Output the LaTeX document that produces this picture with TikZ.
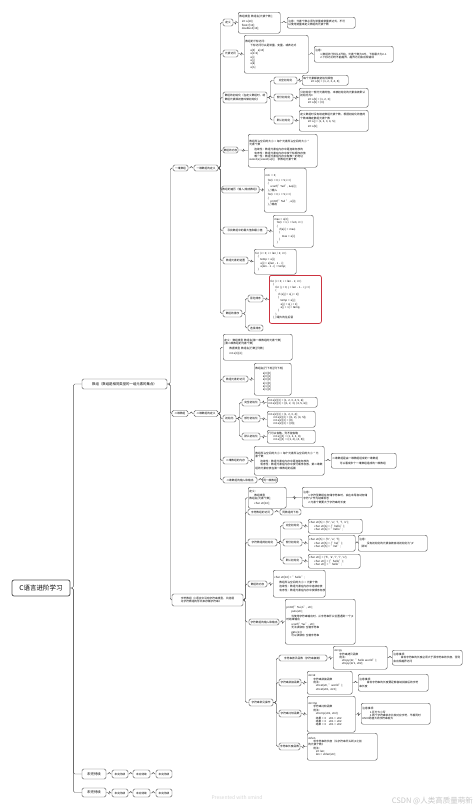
\documentclass[tikz,border=0pt]{standalone}
\usepackage{fontspec}
\setmainfont{Noto Sans CJK SC}
\definecolor{lc}{HTML}{555555}
\definecolor{rc}{HTML}{CC3340}
\newcommand\myfs{\fontsize{2.7}{3.3}\selectfont}
\newcommand\myind{\hspace*{2.5pt}}
\newcommand\myq{\textquotesingle}
\tikzset{
  tag/.style={draw=lc, line width=0.45pt, rounded corners=1.5pt, fill=white, inner sep=0.6pt, font=\myfs, align=center},
  bx/.style={draw=lc, line width=0.45pt, rounded corners=2pt, fill=white, inner xsep=1.2pt, inner ysep=0.8pt, font=\myfs, align=left, anchor=north west},
  conn/.style={draw=lc, line width=0.45pt, rounded corners=1.5pt},
  rootnode/.style={line width=0.75pt, rounded corners=2pt, font=\fontsize{6.5}{8}\selectfont},
  lvone/.style={font=\fontsize{3.4}{4.2}\selectfont},
}
\newcommand\tg[7][]{\pgfmathsetmacro\mybw{#5-#3}\pgfmathsetmacro\mybh{#6-#4}%
  \node[tag,#1,minimum width=\mybw pt,minimum height=\mybh pt] (#2) at ({(#3+#5)/2},{(#4+#6)/2}) {#7};}
\newcommand\bxn[7][]{\pgfmathsetmacro\mybw{#5-#3-2.4}\pgfmathsetmacro\mybh{#6-#4}%
  \node[bx,#1,text width=\mybw pt,minimum height=\mybh pt] (#2) at (#3,#4) {#7};}
\newcommand\lnk[3][2.5]{\draw[conn] (#2.east) -- ++(#1,0) |- (#3.west);}
\begin{document}
\begin{tikzpicture}[x=1pt,y=-1pt]
\fill[white] (0,0) rectangle (474,809);
\useasboundingbox (0,0) rectangle (474,809);

% root and level 1
\tg[rootnode]{root}{12}{580}{70}{596}{C语言进阶学习}
\tg[lvone]{arr}{82}{379}{167}{389}{数组（数组是相同类型的一组元素的集合）}
\tg[lvone]{ba}{82}{769}{106}{779}{未完待续}
\tg{ba1}{112}{770}{128}{778}{未完待续}
\tg{ba2}{133}{770}{150}{778}{未完待续}
\tg{ba3}{156}{770}{172}{778}{未完待续}
\tg[lvone]{bb}{82}{788}{106}{797}{未完待续}
\tg{bb1}{112}{789}{128}{797}{未完待续}
\tg{bb2}{133}{789}{150}{797}{未完待续}
\tg{bb3}{156}{789}{172}{797}{未完待续}

% level 2
\tg{one}{173}{165}{188}{171}{一维数组}
\tg{oned}{194}{165}{218}{171}{一维数组的定义}
\tg{two}{172}{410.5}{188}{416.5}{二维数组}
\tg{twod}{194}{410.5}{218}{416.5}{二维数组的定义}
\tg[align=left]{chr}{172}{594}{243}{606}{字符数组（C语言中没有字符串类型，只能通\\过字符数组的形式来存储字符串）}

% ---------- one-dimensional ----------
\tg{tdef}{223}{19}{233}{26}{定义}
\bxn{A1}{238}{12}{280}{33}{数组类型 数组名[元素个数];\\[1.5pt]\myind int a[10];\\\myind float f[10];\\\myind double d[10];}
\bxn{A2}{287}{17}{355}{28}{注意：元素个数必须为常量或常量表达式，不可\\以使用变量来定义数组的元素个数}

\tg{tacc}{223}{50}{238}{57}{元素访问}
\bxn{B1}{244}{35}{308}{73}{数组的下标访问：\\[1.5pt]\myind\myind 下标访问可以是常量、变量、或表达式\\[1.5pt]\myind\myind a[0]\quad a[10]\\\myind\myind a[1+2]\\\myind\myind a[i]\\\myind\myind a[j]\\\myind\myind a[k]\\\myind\myind a[n]}
\bxn{B2}{314}{46}{393}{62}{注意：\\\myind\myind 1.数组的下标从0开始，元素个数为n时，下标最大为n-1\\\myind\myind 2.下标访问时不能越界，越界访问会出现错误}

\tg[align=left]{tinit}{223}{92}{267}{103}{数组的初始化（在定义数组时，给\\数组元素赋初值叫做初始化）}
\tg{i1}{274}{77}{297}{84}{完全初始化}
\bxn{C1}{302}{75}{348}{85}{每个元素都被初始化赋值\\\myind\myind\myind int a[5] = \{1, 2, 3, 4, 5\};}
\tg{i2}{274}{94}{293}{101}{部分初始化}
\bxn{C2}{299}{88}{368}{107}{只初始化一部分元素的值，未被初始化的元素会被默认\\初始化为0\\\myind\myind\myind int a[5] = \{1, 2, 3\};\\\myind\myind\myind int a[5] = \{0\};}
\tg{i3}{274}{116}{293}{124}{默认初始化}
\bxn{C3}{299}{110}{368}{131}{定义数组时没有给定数组元素个数，根据初始化的值的\\个数来确定数组元素个数\\\myind\myind\myind int a[] = \{1, 2, 3, 4, 5\};\\[1.5pt]\myind\myind\myind int a[5];}

\tg{tmem}{223}{147}{238}{153}{数组的内存}
\bxn{D}{248}{134}{317}{167}{数组所占空间的大小 = 每个元素所占空间的大小 *\\元素个数\\[1.5pt]\myind\myind 连续性：数组元素在内存中是连续存放的\\\myind\myind 有序性：数组元素在内存中按下标顺序存放\\\myind\myind 唯一性：数组元素在内存中有唯一的地址\\sizeof(a)/sizeof(a[0])\quad 求数组元素个数}

\tg{ttrav}{223}{186}{258}{193}{数组的遍历（输入/输出数组）}
\bxn{E}{264}{168}{306}{212}{int i = 0;\\[1.5pt]\myind for(i = 0; i < 5; i++)\\\myind \{\\\myind\myind scanf("\%d", \&a[i]);\\\myind \} //输入\\[1.5pt]\myind for(i = 0; i < 5; i++)\\\myind \{\\\myind\myind printf("\%d ", a[i]);\\\myind \} //输出}

\tg{tmax}{223}{227}{267}{234}{寻找数组中的最大值和最小值}
\bxn{F}{273}{215}{313}{247}{max = a[0];\\\myind for(i = 1; i < len; i++)\\\myind \{\\\myind\myind if(a[i] > max)\\\myind\myind \{\\\myind\myind\myind max = a[i];\\\myind\myind \}\\\myind \}}

\tg{trev}{223}{257}{248}{264}{数组元素的逆置}
\bxn{G}{254}{249}{296}{274}{for (i = 0; i < len / 2; i++)\\\myind \{\\\myind\myind temp = a[i];\\\myind\myind a[i] = a[len - 1 - i];\\\myind\myind a[len - 1 - i] = temp;\\\myind \}}

\tg{tsort}{223}{310}{242}{317}{数组的排序}
\tg{bub}{248}{295}{263}{302}{冒泡排序}
\bxn[draw=rc,line width=0.75pt]{H}{269}{275}{321}{323}{for (i = 0; i < len - 1; i++)\\\myind \{\\\myind\myind for (j = 0; j < len - 1 - i; j++)\\\myind\myind \{\\\myind\myind\myind if (a[j] > a[j + 1])\\\myind\myind\myind \{\\\myind\myind\myind\myind temp = a[j];\\\myind\myind\myind\myind a[j] = a[j + 1];\\\myind\myind\myind\myind a[j + 1] = temp;\\\myind\myind\myind \}\\\myind\myind \}\\\myind \} //最大的往后冒}
\tg{sel}{248}{325}{263}{331}{选择排序}

% ---------- two-dimensional ----------
\bxn{I}{223}{334}{292}{360}{定义：数组类型 数组名[第一维数组的元素个数]\\{}[第二维数组的元素个数]\\[1.5pt]\myind\myind 数据类型 数组名[行数][列数]\\[1.5pt]\myind\myind int a[3][4];}
\tg{uacc}{223}{376}{248}{382}{数组元素的访问}
\bxn{J}{254}{363}{291}{395}{数组名[行下标][列下标]\\[1.5pt]\myind\myind\myind a[0][0]\\\myind\myind\myind a[0][1]\\\myind\myind\myind a[0][2]\\\myind\myind\myind a[1][0]\\\myind\myind\myind a[1][1]\\\myind\myind\myind a[1][2]}
\tg{uinit}{223}{415}{236}{422}{初始化}
\tg{ui1}{242}{399}{260}{406}{完全初始化}
\bxn{K1}{267}{397}{317}{407}{int a[2][3] = \{1, 2, 3, 4, 5, 6\};\\int a[2][3] = \{\{1, 2, 3\}, \{4, 5, 6\}\};}
\tg{ui2}{242}{415}{260}{422}{部分初始化}
\bxn{K2}{267}{411}{315}{427}{int a[2][3] = \{1, 2, 3, 4\};\\\myind\myind int a[2][3] = \{\{1, 2\}, \{4, 5\}\};\\\myind\myind int a[2][3] = \{0\};\\\myind\myind int a[2][3] = \{\{0\}\};}
\tg{ui3}{242}{433}{260}{440}{默认初始化}
\bxn{K3}{267}{430}{315}{443}{行可以省略，列不能省略\\\myind\myind int a[][3] = \{1, 2, 3, 4\};\\\myind\myind int a[][3] = \{\{1, 2\}, \{4, 5\}\};}
\tg{umem}{223}{457}{248}{464}{二维数组的内存}
\bxn{L1}{254}{446}{324}{475}{数组所占空间的大小 = 每个元素所占空间的大小 * 元\\素个数\\[1.5pt]\myind\myind 连续性：数组元素在内存中是连续存放的\\\myind\myind 有序性：数组元素在内存中按行顺序存放，第二维数\\组的元素存放在第一维数组的后面}
\bxn{L2}{331}{453}{396}{468}{二维数组是由一维数组组成的一维数组\\[1.5pt]\myind\myind\myind 可以看成多个一维数组组成的一维数组}
\tg{uio}{223}{477}{257}{483}{二维数组的输入和输出}
\tg{usame}{263}{477}{277}{483}{同一维数组}

% ---------- char arrays ----------
\bxn{M1}{248}{487}{286}{508}{定义：\\\myind\myind 数组类型 数组名[元素个数];\\[1.5pt]\myind\myind char str[10];}
\bxn{M2}{302}{487}{372}{507}{注意：\\\myind\myind 1.字符型数组在存储字符串时，会在末尾自动存储\\字符\myq\textbackslash 0\myq 作为结束标志\\\myind\myind 2.元素个数要大于字符串的长度}
\tg{cacc}{248}{509}{273}{515}{字符数组的访问}
\tg{csame}{280}{509}{301}{515}{同数组的下标}
\tg{cinit}{248}{539}{277}{546}{字符数组的初始化}
\tg{ci1}{283}{522}{302}{529}{完全初始化}
\bxn{N1}{308}{519}{362}{533}{char str[5] = \{\myq h\myq, \myq e\myq, \myq l\myq, \myq l\myq, \myq o\myq\};\\\myind\myind char str[6] = \{"hello"\};\\\myind\myind char str[6] = "hello";}
\tg{ci2}{283}{539}{302}{546}{部分初始化}
\bxn{N2}{308}{535}{355}{551}{char str[5] = \{\myq h\myq, \myq e\myq, \myq l\myq\};\\\myind\myind char str[5] = \{"hel"\};\\\myind\myind char str[5] = "hel";}
\bxn{N2b}{358}{535}{427}{551}{注意：\\\myind\myind\myind 没有初始化的元素会被自动初始化为\myq\textbackslash 0\myq\\（即0）}
\tg{ci3}{283}{557}{302}{564}{默认初始化}
\bxn{N3}{308}{554}{360}{568}{char str[] = \{\myq h\myq, \myq e\myq, \myq l\myq, \myq l\myq, \myq o\myq\};\\\myind\myind char str[] = \{"hello"\};\\\myind\myind char str[] = "hello";}
\tg{cmem}{248}{581}{267}{587}{数组的内存}
\bxn{O}{273}{570}{325}{597}{char str[10] = "hello";\\[1.5pt]\myind\myind 数组所占空间的大小 = 元素个数\\[1.5pt]\myind\myind 连续性：数组元素在内存中连续存放\\\myind\myind 有序性：数组元素在内存中按顺序存放}
\tg{cio}{249}{619}{279}{625}{字符数组的输入和输出}
\bxn{P}{285}{599}{355}{644}{printf("\%s\textbackslash n", str);\\\myind\myind puts(str);\\[1.5pt]\myind\myind 当使用字符串输出时，从字符串开头位置遇到一个\textbackslash 0\\时结束输出\\[1.5pt]\myind\myind scanf("\%s", str);\\\myind\myind 无法读取有 空格字符串\\[1.5pt]\myind\myind gets(str);\\\myind\myind 可以读取有 空格字符串}
\tg{cops}{249}{699}{273}{706}{字符串常见操作}
\tg{sq}{279}{655}{327}{661}{字符串拷贝函数（字符串复制）}
\bxn{Q1}{333}{646}{387}{669}{strcpy\\\myind\myind 字符串拷贝函数\\\myind\myind 用法：\\\myind\myind\myind strcpy(str, "hello world");\\\myind\myind\myind strcpy(str1, str2);}
\bxn{Q2}{392}{650}{462}{665}{注意事项：\\\myind\myind\myind 目标字符串的长度必须大于源字符串的长度，否则\\会出现越界访问}
\tg{sr}{279}{679}{301}{686}{字符串拼接函数}
\bxn{R1}{307}{671}{352}{694}{strcat\\\myind\myind 字符串拼接函数\\\myind\myind 用法：\\\myind\myind\myind strcat(str, "world");\\\myind\myind\myind strcat(str1, str2);}
\bxn{R2}{358}{674}{428}{691}{注意事项：\\\myind\myind\myind 目标字符串的长度要足够容纳拼接后的字符\\串长度}
\tg{ss}{279}{710}{301}{717}{字符串比较函数}
\bxn{S1}{307}{696}{355}{732}{strcmp\\\myind\myind 字符串比较函数\\\myind\myind 用法：\\\myind\myind\myind strcmp(str1, str2);\\[1.5pt]\myind\myind\myind 结果 > 0\quad str1 > str2\\\myind\myind\myind 结果 = 0\quad str1 = str2\\\myind\myind\myind 结果 < 0\quad str1 < str2}
\bxn{S2}{361}{703}{430}{724}{注意事项：\\\myind\myind\myind 1.区分大小写\\\myind\myind\myind 2.两个字符串依次比较对应字符，不相同时\\ASCII码值大的字符串就大}
\tg{st}{279}{743}{300}{750}{字符串长度函数}
\bxn{T}{307}{733}{377}{760}{strlen\\\myind\myind 求字符串的长度（从字符串开头到\textbackslash 0之前\\的元素个数）\\\myind\myind 用法：\\\myind\myind\myind int len;\\\myind\myind\myind len = strlen(str);}

% watermarks
\node[font=\fontsize{5}{6}\selectfont, text=black!16] (wm1) at (237,798) {Presented with xmind};
\node[font=\fontsize{7.5}{9}\selectfont, text=black!22, anchor=east, inner sep=0pt] (wm2) at (473,801) {CSDN @人类高质量萌新};

% ---------- connectors ----------
\lnk[3]{root}{arr}\lnk[3]{root}{ba}\lnk[3]{root}{bb}
\lnk[3]{ba}{ba1}\lnk[2.5]{ba1}{ba2}\lnk[3]{ba2}{ba3}
\lnk[3]{bb}{bb1}\lnk[2.5]{bb1}{bb2}\lnk[3]{bb2}{bb3}
\lnk[3]{arr}{one}\lnk[3]{arr}{two}\lnk[3]{arr}{chr}
\lnk[3]{one}{oned}\lnk[3]{two}{twod}
\foreach \c in {tdef,tacc,tinit,tmem,ttrav,tmax,trev,tsort}{\lnk[2]{oned}{\c}}
\lnk{tdef}{A1}\lnk[3.5]{A1}{A2}\lnk[3]{tacc}{B1}\lnk[3]{B1}{B2}
\lnk[3]{tinit}{i1}\lnk[3]{tinit}{i2}\lnk[3]{tinit}{i3}
\lnk{i1}{C1}\lnk[3]{i2}{C2}\lnk[3]{i3}{C3}
\lnk[5]{tmem}{D}\lnk[3]{ttrav}{E}\lnk[3]{tmax}{F}\lnk[3]{trev}{G}
\lnk[3]{tsort}{bub}\lnk[3]{tsort}{sel}\lnk[3]{bub}{H}
\foreach \c in {I,uacc,uinit,umem,uio}{\lnk[2]{twod}{\c}}
\lnk[3]{uacc}{J}
\lnk[3]{uinit}{ui1}\lnk[3]{uinit}{ui2}\lnk[3]{uinit}{ui3}
\lnk[3.5]{ui1}{K1}\lnk[3.5]{ui2}{K2}\lnk[3.5]{ui3}{K3}
\lnk[3]{umem}{L1}\lnk[3.5]{L1}{L2}\lnk[3]{uio}{usame}
\foreach \c in {M1,cacc,cinit,cmem,cio,cops}{\lnk[2]{chr}{\c}}
\lnk[8]{M1}{M2}\lnk[3.5]{cacc}{csame}
\lnk[3]{cinit}{ci1}\lnk[3]{cinit}{ci2}\lnk[3]{cinit}{ci3}
\lnk[3]{ci1}{N1}\lnk[3]{ci2}{N2}\lnk[1.5]{N2}{N2b}\lnk[3]{ci3}{N3}
\lnk[3]{cmem}{O}\lnk[3]{cio}{P}
\lnk[3]{cops}{sq}\lnk[3]{cops}{sr}\lnk[3]{cops}{ss}\lnk[3]{cops}{st}
\lnk[3]{sq}{Q1}\lnk[2.5]{Q1}{Q2}\lnk[3]{sr}{R1}\lnk[3]{R1}{R2}
\lnk[3]{ss}{S1}\lnk[3]{S1}{S2}\lnk[3]{st}{T}
\end{tikzpicture}
\end{document}
